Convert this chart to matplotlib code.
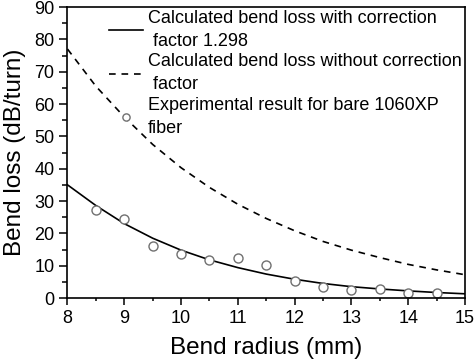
import matplotlib.pyplot as plt

plt.rcParams['font.family'] = ['Liberation Sans', 'DejaVu Sans']

radius = [8, 8.5, 9, 9.5, 10, 10.5, 11, 11.5, 12, 12.5, 13, 13.5, 14, 14.5, 15]
loss_corr = [35, 28.6, 23.0, 18.5, 14.8, 11.8, 9.4, 7.4, 5.8, 4.5, 3.5, 2.8, 2.2, 1.7, 1.3]
loss_nocorr = [77, 65.5, 56, 47.5, 40.3, 34.2, 29.0, 24.6, 20.8, 17.5, 14.8, 12.5, 10.4, 8.7, 7.2]

exp_radius = [8.5, 9, 9.5, 10, 10.5, 11, 11.5, 12, 12.5, 13, 13.5, 14, 14.5]
exp_loss = [27.3, 24.4, 16.2, 13.6, 11.9, 12.3, 10.3, 5.4, 3.5, 2.4, 2.8, 1.6, 1.5]

fig = plt.figure(figsize=(4.74, 3.61), dpi=100)
ax = fig.add_axes([0.1424, 0.1745, 0.8386, 0.806])

ax.plot(radius, loss_corr, color='black', lw=1.2,
        label='Calculated bend loss with correction\n factor 1.298')
ax.plot(radius, loss_nocorr, color='black', lw=1.2, linestyle=(0, (4, 3.5)),
        label='Calculated bend loss without correction\n factor')
ax.plot(exp_radius, exp_loss, linestyle='none', marker='o', markersize=6.5,
        markerfacecolor='white', markeredgecolor='#707070', markeredgewidth=1.0,
        label='Experimental result for bare 1060XP\nfiber')

ax.set_xlim(8, 15)
ax.set_ylim(0, 90)
ax.set_xticks(range(8, 16))
ax.set_xticks([x + 0.5 for x in range(8, 15)], minor=True)
ax.set_yticks(range(0, 91, 10))
ax.set_yticks(range(5, 90, 10), minor=True)
ax.tick_params(which='both', direction='out', top=False, right=False,
               labelsize=13, width=1.1)
ax.tick_params(which='major', length=6)
ax.tick_params(which='minor', length=3.5)
ax.tick_params(axis='x', which='major', length=5)
ax.tick_params(axis='x', which='minor', length=2.5)
for s in ax.spines.values():
    s.set_linewidth(1.2)

ax.set_xlabel('Bend radius (mm)', fontsize=17.5, labelpad=7)
ax.set_ylabel('Bend loss (dB/turn)', fontsize=17.5, labelpad=6)

leg = ax.legend(loc='upper left', bbox_to_anchor=(0.105, 0.99), frameon=False,
                fontsize=13, borderpad=0, borderaxespad=0, handlelength=1.85,
                handletextpad=0.3, labelspacing=0.2, markerscale=0.8)
for t in leg.get_texts():
    t.set_linespacing(1.45)

fig.savefig('out.png', dpi=100)
